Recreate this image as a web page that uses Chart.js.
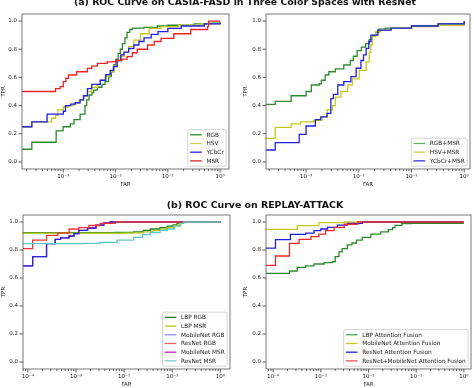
<!DOCTYPE html>
<html>
<head>
<meta charset="utf-8">
<script src="https://cdn.jsdelivr.net/npm/chart.js@4.4.1/dist/chart.umd.min.js"></script>
<style>
  html, body { margin: 0; padding: 0; background: #fff; }
  body { width: 474px; height: 388px; position: relative; overflow: hidden; font-family: "DejaVu Sans", sans-serif; }
  canvas { position: absolute; }
  .title { position: absolute; z-index: 2; white-space: nowrap; font-weight: bold; font-size: 9.4px; line-height: 9.4px; color: #111; transform: translateX(-50%); }
</style>
</head>
<body>
<div class="title" style="left:245px; top:-3.5px">(a) ROC Curve on CASIA-FASD in Three Color Spaces with ResNet</div>
<div class="title" style="left:255px; top:199.5px">(b) ROC Curve on REPLAY-ATTACK</div>
<canvas id="tl" width="237" height="192" style="left:0; top:0"></canvas>
<canvas id="tr" width="237" height="192" style="left:237px; top:0"></canvas>
<canvas id="bl" width="237" height="196" style="left:0; top:192px"></canvas>
<canvas id="br" width="237" height="196" style="left:237px; top:192px"></canvas>
<script>
// ---- data: [FAR, TPR] ----
// (a) left: single colour spaces
var aRGB = [[1e-5,0.09],[2.5e-4,0.14],[7.3e-4,0.22],[9.9e-4,0.25],[1.36e-3,0.27],[1.6e-3,0.30],[2.1e-3,0.34],[2.6e-3,0.40],
  [2.8e-3,0.44],[3.1e-3,0.475],[3.5e-3,0.49],[3.8e-3,0.51],[4.5e-3,0.53],[5.5e-3,0.55],[6.3e-3,0.57],[7.4e-3,0.605],
  [8.3e-3,0.64],[9.3e-3,0.69],[1.02e-2,0.73],[1.12e-2,0.77],[1.23e-2,0.80],[1.35e-2,0.84],[1.51e-2,0.88],[1.66e-2,0.92],
  [1.86e-2,0.94],[2.1e-2,0.95],[3.5e-2,0.955],[6.3e-2,0.965],[0.1,0.97],[0.32,0.98],[0.63,0.985],[1,0.99]];
var aHSV = [[1e-5,0.25],[2.5e-4,0.285],[6.0e-4,0.31],[7.1e-4,0.33],[7.9e-4,0.37],[1.0e-3,0.39],[1.26e-3,0.40],[1.6e-3,0.42],
  [2.0e-3,0.44],[2.4e-3,0.47],[2.9e-3,0.50],[3.5e-3,0.53],[4.5e-3,0.55],[5.1e-3,0.58],[6.3e-3,0.61],[7.9e-3,0.64],
  [9.3e-3,0.68],[1.07e-2,0.72],[1.26e-2,0.75],[1.45e-2,0.78],[1.78e-2,0.82],[2.24e-2,0.865],[3.0e-2,0.91],[4.4e-2,0.948],
  [7.4e-2,0.96],[0.16,0.97],[0.4,0.98],[1,0.99]];
var aYCbCr = [[1e-5,0.25],[2.5e-4,0.285],[4.9e-4,0.34],[1.0e-3,0.36],[1.1e-3,0.40],[1.38e-3,0.41],[1.7e-3,0.42],[2.1e-3,0.44],
  [2.45e-3,0.47],[2.9e-3,0.52],[3.5e-3,0.55],[5.1e-3,0.58],[6.5e-3,0.62],[7.9e-3,0.65],[9.1e-3,0.676],[1.07e-2,0.72],
  [1.26e-2,0.76],[1.45e-2,0.78],[1.78e-2,0.805],[2.24e-2,0.83],[2.8e-2,0.855],[3.5e-2,0.88],[4.8e-2,0.905],[6.5e-2,0.925],
  [0.1,0.948],[0.18,0.965],[0.5,0.98],[1,0.99]];
var aMSR = [[1e-5,0.50],[7.1e-4,0.52],[8.7e-4,0.535],[1.0e-3,0.57],[1.12e-3,0.594],[1.26e-3,0.617],[1.8e-3,0.64],[2.9e-3,0.664],
  [3.5e-3,0.68],[4.5e-3,0.70],[6.9e-3,0.71],[1.0e-2,0.72],[1.32e-2,0.73],[1.66e-2,0.747],[2.1e-2,0.775],[2.6e-2,0.80],
  [4.1e-2,0.83],[5.5e-2,0.855],[7.4e-2,0.877],[0.13,0.91],[0.275,0.94],[0.575,0.96],[0.6,1.0],[1,1.0]];
// (a) right: colour space + MSR
var aRGBMSR = [[1e-5,0.409],[2.6e-4,0.43],[5.2e-4,0.47],[1.0e-3,0.50],[1.26e-3,0.546],[1.78e-3,0.555],[1.95e-3,0.58],[2.3e-3,0.617],
  [2.7e-3,0.64],[3.6e-3,0.66],[5.2e-3,0.688],[6.9e-3,0.72],[7.9e-3,0.75],[9.3e-3,0.79],[1.12e-2,0.815],[1.35e-2,0.84],
  [1.58e-2,0.87],[1.8e-2,0.896],[2.1e-2,0.92],[2.4e-2,0.943],[3.2e-2,0.95],[0.1,0.965],[0.32,0.98],[1,0.995]];
var aHSVMSR = [[1e-5,0.168],[2.6e-4,0.246],[5.2e-4,0.27],[7.8e-4,0.285],[1.4e-3,0.295],[2.0e-3,0.32],[2.5e-3,0.37],[3.2e-3,0.40],
  [3.6e-3,0.46],[4.6e-3,0.50],[6.2e-3,0.546],[7.6e-3,0.59],[1.02e-2,0.65],[1.38e-2,0.71],[1.58e-2,0.78],[1.7e-2,0.83],
  [1.8e-2,0.89],[2.1e-2,0.925],[2.6e-2,0.936],[4.1e-2,0.95],[0.1,0.96],[0.32,0.97],[1,0.978]];
var aYCbCrMSR = [[1e-5,0.085],[2.6e-4,0.137],[7.4e-4,0.196],[1.0e-3,0.255],[1.5e-3,0.30],[1.9e-3,0.32],[2.5e-3,0.345],[2.95e-3,0.45],
  [3.3e-3,0.48],[4.0e-3,0.546],[5.2e-3,0.57],[7.1e-3,0.605],[8.9e-3,0.665],[1.1e-2,0.72],[1.23e-2,0.76],[1.38e-2,0.806],
  [1.55e-2,0.855],[1.7e-2,0.90],[2.3e-2,0.936],[4.1e-2,0.95],[0.1,0.965],[0.32,0.98],[1,1.0]];
// (b) left: single methods
var bLbpRGB = [[1e-6,0.924],[6.3e-3,0.925],[1.58e-2,0.93],[2.5e-2,0.94],[3.5e-2,0.95],[5.6e-2,0.96],[7.9e-2,0.97],[0.105,0.98],
  [0.126,0.99],[0.162,1.0],[1,1.0]];
var bLbpMSR = [[1e-6,0.92],[1e-2,0.922],[2.5e-2,0.93],[4e-2,0.94],[5.8e-2,0.95],[7.9e-2,0.96],[0.11,0.975],[0.14,0.99],
  [0.162,1.0],[1,1.0]];
var bMobRGB = [[1e-6,0.686],[1.26e-4,0.752],[2.45e-4,0.845],[3.7e-4,0.876],[4.8e-4,0.886],[7.2e-4,0.90],[9.1e-4,0.917],
  [1.15e-3,0.94],[1.74e-3,0.955],[2.6e-3,0.976],[3.8e-3,0.99],[5.2e-3,1.0],[1,1.0]];
var bResRGB = [[1e-6,0.81],[1.26e-4,0.87],[2.45e-4,0.905],[4.2e-4,0.92],[7.2e-4,0.95],[1.15e-3,0.96],[1.86e-3,0.975],
  [3.2e-3,0.99],[6.6e-3,1.0],[1,1.0]];
var bMobMSR = [[1e-6,0.686],[1.26e-4,0.752],[2.45e-4,0.845],[3.7e-4,0.876],[4.8e-4,0.886],[7.2e-4,0.90],[9.1e-4,0.917],
  [1.15e-3,0.94],[1.74e-3,0.96],[2.6e-3,0.98],[3.8e-3,0.995],[5.0e-3,1.0],[1,1.0]];
var bResMSR = [[1e-6,0.845],[1.5e-3,0.848],[3.2e-3,0.855],[7.2e-3,0.87],[1.58e-2,0.89],[2.4e-2,0.91],[3.5e-2,0.925],
  [5.6e-2,0.94],[7.9e-2,0.95],[0.11,0.97],[0.15,0.99],[0.174,1.0],[1,1.0]];
// (b) right: attention fusion
var bLbpAtt = [[1e-6,0.633],[2.2e-4,0.65],[3.2e-4,0.676],[4.8e-4,0.686],[7.2e-4,0.70],[1.17e-3,0.71],[1.74e-3,0.716],
  [2.0e-3,0.752],[2.4e-3,0.786],[2.8e-3,0.81],[3.6e-3,0.836],[4.5e-3,0.85],[5.6e-3,0.87],[7.4e-3,0.89],[1.12e-2,0.914],
  [1.8e-2,0.93],[2.6e-2,0.945],[3.2e-2,0.96],[3.6e-2,0.976],[5.0e-2,0.988],[7.9e-2,0.99],[1,0.99]];
var bMobAtt = [[1e-6,0.948],[3.2e-4,0.974],[9.1e-4,0.995],[3.1e-3,1.0],[1,1.0]];
var bResAtt = [[1e-6,0.814],[1.12e-4,0.874],[2.3e-4,0.912],[4.8e-4,0.92],[7.2e-4,0.938],[1.0e-3,0.95],[1.38e-3,0.962],
  [2.24e-3,0.978],[3.6e-3,0.99],[7.4e-3,1.0],[1,1.0]];
var bFusAtt = [[1e-6,0.69],[1.12e-4,0.757],[2.2e-4,0.848],[3.5e-4,0.876],[6.2e-4,0.895],[9.1e-4,0.914],[1.26e-3,0.938],
  [1.9e-3,0.962],[3.1e-3,0.984],[5.9e-3,1.0],[1,1.0]];

var namesTL = ['RGB', 'HSV', 'YCbCr', 'MSR'];
var namesTR = ['RGB+MSR', 'HSV+MSR', 'YCbCr+MSR'];
var namesBL = ['LBP RGB', 'LBP MSR', 'MobileNet RGB', 'ResNet RGB', 'MobileNet MSR', 'ResNet MSR'];
var namesBR = ['LBP Attention Fusion', 'MobileNet Attention Fusion', 'ResNet Attention Fusion', 'ResNet+MobileNet Attention Fusion'];

var yTicks = [0, 0.2, 0.4, 0.6, 0.8, 1.0];
var xDecades = [-5, -4, -3, -2, -1, 0];

// ---- styling ----
var tickFont = { family: 'DejaVu Sans', size: 5.5 };
var textColor = '#222';
var supMap = { '-': '\u207B', '0': '\u2070', '1': '\u00B9', '2': '\u00B2', '3': '\u00B3', '4': '\u2074', '5': '\u2075' };

function supLabel(v) {
    var e = String(Math.round(Math.log10(v)));
    return '10' + e.split('').map(function(c) { return supMap[c]; }).join('');
}

function logTicks(scale) {
    var out = [];
    xDecades.forEach(function(d) {
        for (var m = 1; m <= 9; m++) {
            var v = m * Math.pow(10, d);
            if (v >= scale.min && v <= scale.max) out.push({ value: v, major: m === 1 });
        }
    });
    scale.ticks = out;
}

// axes box and tick marks, drawn over the curves like matplotlib spines
var frameTicks = {
    id: 'frameTicks',
    afterDatasetsDraw: function(chart) {
        var ctx = chart.ctx, a = chart.chartArea, x = chart.scales.x, y = chart.scales.y;
        ctx.save();
        ctx.strokeStyle = '#333';
        ctx.lineWidth = 0.8;
        ctx.beginPath();
        x.ticks.forEach(function(t) {
            var p = x.getPixelForValue(t.value);
            ctx.moveTo(p, a.bottom);
            ctx.lineTo(p, a.bottom + (t.major ? 3.5 : 2));
        });
        y.ticks.forEach(function(t) {
            var p = y.getPixelForValue(t.value);
            ctx.moveTo(a.left, p);
            ctx.lineTo(a.left - 3.5, p);
        });
        ctx.stroke();
        ctx.strokeStyle = '#555';
        ctx.strokeRect(a.left, a.top, a.right - a.left, a.bottom - a.top);
        ctx.restore();
    }
};

// legend in the lower right corner of the plot
var insideLegend = {
    id: 'insideLegend',
    afterDraw: function(chart, args, opts) {
        var ctx = chart.ctx, a = chart.chartArea;
        var f = opts.fontSize;
        var items = chart.data.datasets;
        ctx.save();
        ctx.font = f + 'px "DejaVu Sans"';
        var pad = 0.4 * f, hl = 2 * f, tp = 0.8 * f, ls = 0.5 * f, ax = 0.5 * f, rowH = f;
        var textW = Math.max.apply(null, items.map(function(d) { return ctx.measureText(d.label).width; }));
        var w = pad * 2 + hl + tp + textW;
        var h = pad * 2 + items.length * rowH + (items.length - 1) * ls;
        var x0 = a.right - ax - w, y0 = a.bottom - ax - h;
        ctx.fillStyle = 'rgba(255,255,255,0.85)';
        ctx.strokeStyle = '#cccccc';
        ctx.lineWidth = 0.8;
        ctx.beginPath();
        ctx.roundRect(x0, y0, w, h, 1.5);
        ctx.fill();
        ctx.stroke();
        items.forEach(function(d, i) {
            var cy = y0 + pad + i * (rowH + ls) + rowH / 2;
            ctx.strokeStyle = d.legendColor || d.borderColor;
            ctx.lineWidth = d.borderWidth;
            ctx.beginPath();
            ctx.moveTo(x0 + pad, cy);
            ctx.lineTo(x0 + pad + hl, cy);
            ctx.stroke();
            ctx.fillStyle = textColor;
            ctx.textBaseline = 'middle';
            ctx.fillText(d.label, x0 + pad + hl + tp, cy + 0.3);
        });
        ctx.restore();
    }
};

function rocChart(id, series, names, colors, legendColors, layers, box) {
    var datasets = series.map(function(s, i) {
        return {
            label: names[i],
            data: s.map(function(p) { return { x: p[0], y: p[1] }; }),
            borderColor: colors[i],
            legendColor: legendColors[i],
            borderWidth: 1.3,
            pointRadius: 0,
            stepped: true,
            fill: false,
            order: layers[i]
        };
    });
    return new Chart(document.getElementById(id), {
        type: 'line',
        data: { datasets: datasets },
        options: {
            responsive: false,
            animation: false,
            events: [],
            layout: { padding: { left: 0, top: box.top, right: box.right, bottom: 0 } },
            plugins: {
                legend: { display: false },
                tooltip: { enabled: false },
                insideLegend: { fontSize: 5.8 }
            },
            scales: {
                x: {
                    type: 'logarithmic',
                    min: box.xmin,
                    max: box.xmax,
                    bounds: 'data',
                    afterBuildTicks: logTicks,
                    afterFit: function(s) { s.height = box.xh; },
                    grid: { display: false, drawTicks: true, tickLength: 3.5 },
                    border: { display: false },
                    ticks: {
                        autoSkip: false, maxRotation: 0, minRotation: 0, padding: 1,
                        font: tickFont, color: textColor,
                        callback: function(v, i, ticks) { return ticks[i].major ? supLabel(v) : ''; }
                    },
                    title: { display: true, text: 'FAR', font: tickFont, color: textColor, padding: { top: 0, bottom: box.xtpad } }
                },
                y: {
                    type: 'linear',
                    min: -0.05,
                    max: 1.05,
                    bounds: 'data',
                    afterBuildTicks: function(s) { s.ticks = yTicks.map(function(v) { return { value: v }; }); },
                    afterFit: function(s) { s.width = box.yw; },
                    grid: { display: false, drawTicks: true, tickLength: 3.5 },
                    border: { display: false },
                    ticks: {
                        padding: 1.5, font: tickFont, color: textColor,
                        callback: function(v) { return v.toFixed(1); }
                    },
                    title: { display: true, text: 'TPR', font: tickFont, color: textColor, padding: { top: box.ytpad, bottom: 0 } }
                }
            }
        },
        plugins: [frameTicks, insideLegend]
    });
}

rocChart('tl', [aRGB, aHSV, aYCbCr, aMSR], namesTL,
    ['#2a8a2a', '#c6c61e', '#1f1fe6', '#ee2222'],
    ['#2a8a2a', '#d2d24a', '#1f1fe6', '#ee2222'],
    [4, 3, 2, 1],
    { top: 14, right: 8, yw: 22, xh: 23, xtpad: 3.7, ytpad: 0, xmin: Math.pow(10, -3.79), xmax: Math.pow(10, 0.17) });

rocChart('tr', [aRGBMSR, aHSVMSR, aYCbCrMSR], namesTR,
    ['#2e8b2e', '#c8c81e', '#2222e0'],
    ['#5cb85c', '#d0d040', '#3030d0'],
    [3, 2, 1],
    { top: 14, right: 4, yw: 29, xh: 23, xtpad: 3.7, ytpad: 5, xmin: Math.pow(10, -3.76), xmax: Math.pow(10, 0.11) });

rocChart('bl', [bLbpRGB, bLbpMSR, bMobRGB, bResRGB, bMobMSR, bResMSR], namesBL,
    ['#1e7a1e', '#b4c814', '#2a2ad2', '#ee3333', '#c020c0', '#5cc8c8'],
    ['#1e7a1e', '#b4c814', '#8c8cf0', '#f06060', '#c020c0', '#70d0d0'],
    [5, 4, 3, 2, 6, 1],
    { top: 23, right: 7, yw: 23, xh: 19, xtpad: 0, ytpad: 0, xmin: Math.pow(10, -4.1), xmax: Math.pow(10, 0.2) });

rocChart('br', [bLbpAtt, bMobAtt, bResAtt, bFusAtt], namesBR,
    ['#2a8a2a', '#c8c81e', '#2020e0', '#ee2828'],
    ['#4caf50', '#c8c81e', '#2020e0', '#f05050'],
    [4, 3, 2, 1],
    { top: 23, right: 3, yw: 29, xh: 19, xtpad: 0, ytpad: 5, xmin: Math.pow(10, -4.15), xmax: Math.pow(10, 0.15) });
</script>
</body>
</html>
